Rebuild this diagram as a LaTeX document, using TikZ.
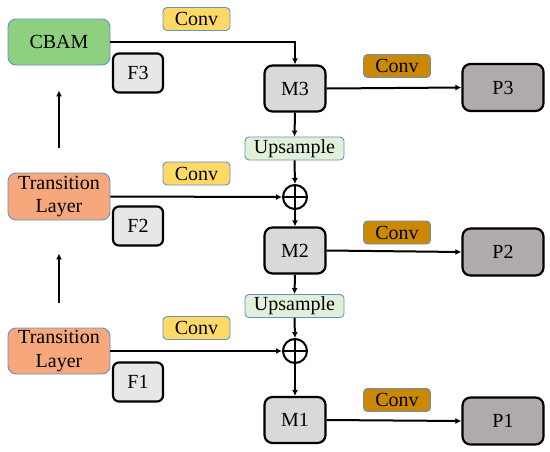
\documentclass[tikz,border=0pt]{standalone}
\usepackage{fontspec}
\setmainfont{Liberation Serif}
\usetikzlibrary{arrows.meta}
\definecolor{cbamgreen}{RGB}{143,208,128}
\definecolor{tlorange}{RGB}{246,168,124}
\definecolor{convyellow}{RGB}{255,217,102}
\definecolor{convdark}{RGB}{204,137,0}
\definecolor{upgreen}{RGB}{226,240,217}
\definecolor{ffill}{RGB}{231,231,231}
\definecolor{mfill}{RGB}{217,217,217}
\definecolor{pfill}{RGB}{175,171,171}
\definecolor{edgeblue}{RGB}{100,145,200}
\tikzset{
  txt/.style={font=\rmfamily\fontsize{20}{23.5}\selectfont, inner sep=0pt, align=center},
  colbox/.style={txt, draw=edgeblue, line width=0.9pt, rounded corners=8pt},
  convbox/.style={txt, draw=edgeblue, line width=0.9pt, rounded corners=4pt, minimum width=67pt, minimum height=23pt},
  graybox/.style={txt, draw=black, line width=2.2pt, rounded corners=8pt},
  fbox/.style={graybox, fill=ffill, minimum width=50pt, minimum height=39pt, rounded corners=6pt},
  mbox/.style={graybox, fill=mfill, minimum width=61pt, minimum height=46pt},
  pbox/.style={graybox, fill=pfill, minimum width=81pt, minimum height=47pt},
  upbox/.style={txt, draw=edgeblue, line width=0.9pt, rounded corners=4pt, fill=upgreen, minimum width=99pt, minimum height=23pt},
  arr/.style={line width=2pt, -{Latex[length=6pt,width=6pt]}},
  opl/.style={circle, draw=black, line width=2pt, minimum size=24pt, inner sep=0pt,
    path picture={\draw[line width=2pt] (path picture bounding box.north) -- (path picture bounding box.south)
      (path picture bounding box.west) -- (path picture bounding box.east);}}
}
\begin{document}
\begin{tikzpicture}[x=1pt,y=-1pt]
\useasboundingbox (0,0) rectangle (550,451);
% left column
\node[colbox, fill=cbamgreen, minimum width=102pt, minimum height=46pt] (cbam) at (59,42) {CBAM};
\node[colbox, fill=tlorange, minimum width=102pt, minimum height=47pt] (tl2) at (59,196.5) {Transition\\Layer};
\node[colbox, fill=tlorange, minimum width=102pt, minimum height=46pt] (tl1) at (59,351) {Transition\\Layer};
% F boxes
\node[fbox] (f3) at (138,73) {F3};
\node[fbox] (f2) at (138,226) {F2};
\node[fbox] (f1) at (138,382) {F1};
% yellow conv labels
\node[convbox, fill=convyellow] (c3) at (196.5,19) {Conv};
\node[convbox, fill=convyellow] (c2) at (196.5,173.5) {Conv};
\node[convbox, fill=convyellow] (c1) at (196.5,328) {Conv};
% M column
\node[mbox] (m3) at (295,88.5) {M3};
\node[upbox] (u3) at (294.5,148.5) {Upsample};
\node[opl] (o3) at (295,197) {};
\node[mbox] (m2) at (295,250.5) {M2};
\node[upbox] (u2) at (294.5,306) {Upsample};
\node[opl] (o2) at (295,351) {};
\node[mbox] (m1) at (295,420) {M1};
% dark conv labels
\node[convbox, fill=convdark] (d3) at (397,66) {Conv};
\node[convbox, fill=convdark] (d2) at (397,232.5) {Conv};
\node[convbox, fill=convdark] (d1) at (397,400) {Conv};
% P boxes
\node[pbox] (p3) at (503,87.5) {P3};
\node[pbox] (p2) at (503,252) {P2};
\node[pbox] (p1) at (503,421) {P1};
% connectors
\draw[arr] (cbam.east) -| (m3.north);
\draw[arr] (tl2.east) -- (o3.west);
\draw[arr] (tl1.east) -- (o2.west);
\draw[arr] (m3.south) -- (u3.north);
\draw[arr] (u3.south) -- (o3.north);
\draw[arr] (o3.south) -- (m2.north);
\draw[arr] (m2.south) -- (u2.north);
\draw[arr] (u2.south) -- (o2.north);
\draw[arr] (o2.south) -- (m1.north);
\draw[arr] (m3.east) -- (p3.west);
\draw[arr] (m2.east) -- (p2.west);
\draw[arr] (m1.east) -- (p1.west);
\draw[arr] ([yshift=25pt]tl2.north) -- ([yshift=-25pt]cbam.south);
\draw[arr] ([yshift=25pt]tl1.north) -- ([yshift=-33pt]tl2.south);
\end{tikzpicture}
\end{document}
